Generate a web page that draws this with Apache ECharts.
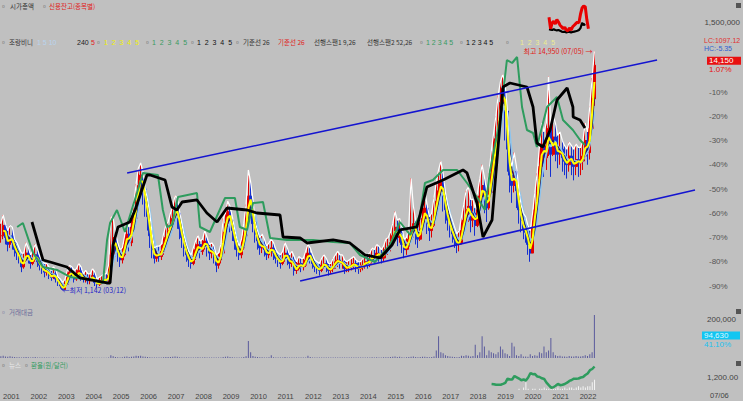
<!DOCTYPE html>
<html><head><meta charset="utf-8">
<script src="https://cdn.jsdelivr.net/npm/echarts@6/dist/echarts.min.js"></script>
<style>html,body{margin:0;padding:0;background:#c0c0c0}#c{width:743px;height:401px}</style>
</head><body><div id="c"></div>
<script>
// ---------- DATA ----------
// monthly prices (won), first point = Dec 2000, last = Jul 2022
const firstYear = 2000, firstMonth = 12;
const closeP = [
4300,
4900,4200,3800,4300,3900,3500,3300,3000,2500,2900,3300,3000,
2700,3000,3200,2800,2600,2400,2200,2300,2000,1900,2100,1800,
1600,1400,1200,1500,1900,2200,2100,1800,2000,2300,1900,1800,
1900,1700,1800,2000,1600,1500,1600,1700,1800,1700,2000,3200,
4200,3600,3300,2900,3200,3800,4400,3900,4800,5300,6300,7200,
7800,7000,6200,5400,4300,3500,3000,3300,3100,3400,3800,4200,
4600,4900,5300,5900,5600,4700,4200,3600,3200,2900,2700,3100,
3500,3800,3400,3700,4000,3600,3300,3500,3100,2600,2900,3300,
4500,5000,5700,5200,4600,4000,3500,3200,3600,4300,5200,6600,
6200,5000,4400,4000,3600,3800,3500,3200,3400,3600,3300,3000,
2900,2700,3000,3300,3000,2700,2900,2300,2400,2700,2500,2600,
2900,3300,3000,2700,2500,2400,2300,2600,2700,2500,2300,2400,
2600,2800,2900,2700,2800,2400,2500,2500,2600,2700,2500,2400,
2500,2600,2800,2700,2900,3100,3000,3300,3200,3000,3300,3500,
3600,3900,4300,4800,4200,4600,3800,3500,3700,4100,4600,5000,
4400,4100,4700,5300,5900,5000,4600,4900,5600,6300,6900,7400,
6600,5800,5200,4800,4400,4100,3800,3900,4600,5200,5800,6000,
5200,5600,4900,5800,6600,7200,6500,5900,6800,7900,8800,9900,
10900,12000,12800,11500,9300,7800,7200,8000,6900,5800,5200,4700,
4500,3800,3300,4800,5800,6800,8300,9600,8800,9500,10500,9000,
10000,9400,9000,9300,8800,8600,8400,8900,8600,8300,8700,8500,
8600,8900,9800,9100,10500,12200,14150
];
const highP = [
5000,
5500,5000,4600,4900,4800,4100,3900,3600,3300,3300,3900,3600,
3200,3500,3800,3500,3100,2900,2700,2700,2500,2300,2500,2300,
1900,1800,1600,1800,2300,2600,2500,2300,2400,2700,2500,2100,
2300,2100,2100,2400,2200,1800,1900,2000,2100,2100,2600,5400,
5300,4500,3900,3500,3600,4300,5100,4800,5500,6100,7300,8200,
8500,8000,7000,6400,5600,4400,3600,3700,3700,3800,4400,4900,
5100,5600,6000,6600,6500,5700,5000,4300,3800,3400,3200,3600,
4000,4300,4000,4100,4600,4200,3800,3900,3700,3200,3300,3800,
5300,5600,6300,6000,5400,4700,4100,3700,4100,5000,6100,8100,
7400,6400,5100,4600,4200,4400,4100,3700,3900,4100,3900,3500,
3300,3200,3400,3900,3600,3200,3400,3100,2800,3100,3000,3000,
3400,3800,3600,3200,2900,2800,2700,3000,3200,3000,2700,2700,
3000,3200,3400,3200,3200,2900,2800,2900,3000,3100,2900,2800,
2800,3000,3300,3200,3300,3600,3500,3800,3700,3500,3700,4100,
4200,4500,5000,5700,5200,5300,4800,4100,4200,4800,7600,6000,
5200,4900,5500,6200,6900,6100,5400,5600,6500,7400,8100,8600,
7900,6800,6100,5600,5200,4800,4400,4600,5400,6100,6900,7100,
6400,6400,5900,6800,7600,8400,7700,6900,7900,9200,10200,11200,
12400,13200,13600,13100,11600,9000,8300,9100,8300,7000,6100,5600,
5400,4900,4600,5600,6800,7900,9400,10800,10300,10800,13500,10600,
11200,10800,10100,10300,9800,9500,9300,9700,9500,9300,9600,9400,
9400,9800,10800,10300,11800,13400,14950
];
const lowP = [
3900,
4100,3800,3400,3600,3500,3100,2900,2700,2200,2400,2800,2700,
2400,2600,2800,2500,2300,2100,1900,2000,1800,1700,1800,1600,
1400,1250,1142,1300,1500,1800,1800,1600,1700,1900,1700,1600,
1600,1500,1500,1700,1400,1300,1400,1500,1600,1500,1600,1900,
3300,3100,2800,2500,2700,3100,3600,3400,3700,4500,5000,5900,
6500,6100,5400,4600,3600,3000,2700,2800,2800,2900,3200,3600,
4000,4300,4600,5000,4700,4100,3600,3100,2800,2500,2400,2600,
2900,3300,3000,3200,3500,3100,2900,3000,2700,2200,2400,2700,
3100,4300,4800,4500,4000,3500,3100,2900,3000,3500,4100,5000,
5300,4500,3900,3500,3200,3300,3100,2900,3000,3100,2900,2700,
2500,2400,2600,2800,2600,2400,2500,2000,2100,2300,2200,2300,
2500,2800,2700,2400,2200,2100,2000,2200,2400,2200,2000,2100,
2200,2400,2500,2400,2400,2100,2200,2200,2300,2400,2200,2100,
2200,2300,2400,2400,2500,2700,2700,2900,2800,2700,2800,3000,
3200,3400,3700,4100,3700,3900,3300,3000,3200,3500,3900,4200,
3800,3600,4000,4600,5000,4400,4000,4200,4800,5400,6000,6500,
5700,5000,4600,4200,3900,3600,3300,3400,3800,4500,5000,5100,
4500,4800,4300,4800,5700,6200,5600,5100,5800,6700,7600,8600,
9600,10500,11200,9800,8000,6800,6200,6800,5900,5000,4500,4100,
3900,3200,2800,3300,4600,5700,6800,8200,7700,8100,8900,7700,
8900,8600,8200,8400,8000,7800,7600,8000,7800,7500,7800,7700,
7800,8100,8600,8400,8700,10100,11800
];
const volumeM = [
9000,
12000,8000,6000,9000,7000,5000,4000,4000,3000,4000,5000,4000,
3000,4000,5000,3000,3000,2000,2000,2000,2000,1500,2000,1500,
1500,1500,2000,2000,3000,3000,2500,2000,2500,3000,2000,1500,
1500,1500,1500,2000,1500,1500,1500,1500,1500,1500,3000,14000,
9000,5000,4000,3000,4000,6000,8000,5000,7000,8000,12000,10000,
12000,8000,6000,5000,4000,3000,2500,3000,2500,3000,4000,5000,
5000,5000,6000,8000,6000,4000,3000,3000,2500,2000,2000,3000,
3000,4000,3000,3000,4000,3000,2500,2500,2000,2000,2000,2500,
5000,6000,8000,5000,4000,3000,2500,2500,3000,5000,9000,90000,
30000,10000,6000,5000,4000,4000,3000,3000,4000,14000,4000,3000,
3000,2500,3000,5000,3000,2500,2500,2000,2000,2500,2000,2000,
3000,12000,5000,3000,2500,2000,2000,3000,3000,2500,2000,2000,
2500,3000,3000,2500,3000,2000,2000,2000,2500,3000,2000,2000,
2000,2500,3000,2500,3000,3500,3000,4000,3000,3000,3500,4000,
4000,5000,6000,8000,5000,6000,4000,3000,3500,5000,6000,8000,
5000,4000,5000,6000,7000,5000,4000,5000,8000,40000,115000,30000,
25000,15000,10000,8000,6000,5000,4000,5000,12000,10000,15000,12000,
8000,10000,70000,14000,30000,115000,60000,15000,40000,30000,25000,20000,
30000,60000,45000,25000,20000,10000,80000,60000,15000,10000,20000,8000,
8000,6000,20000,10000,15000,12000,30000,25000,60000,30000,40000,105000,
30000,15000,10000,12000,8000,8000,6000,10000,8000,8000,10000,8000,
8000,10000,15000,10000,20000,30000,226000
];
// lagging lines: [decimal year, price]
const blackLine = [[2002.09,5095],[2002.49,2901],[2002.75,2786],[2003.36,2497],[2003.84,1862],[2004.82,1574],[2004.93,1574],[2005.04,3767],[2005.22,4807],[2005.65,5095],[2005.84,5788],[2006.27,7809],[2006.38,7809],[2006.93,7520],[2007.18,5961],[2007.36,5788],[2007.55,6250],[2008.09,6366],[2008.45,5615],[2008.82,5095],[2009.18,5904],[2009.91,5788],[2010.27,5615],[2011.11,5499],[2011.22,4229],[2011.84,4172],[2012.09,3883],[2013.04,4057],[2013.65,3883],[2014.2,3190],[2014.75,3017],[2015.18,3767],[2015.47,4634],[2016.09,4807],[2016.45,7116],[2017.04,7520],[2017.76,8098],[2017.91,7925],[2018.27,6193],[2018.49,4229],[2018.82,5211],[2019.22,12889],[2019.47,13120],[2020.09,12889],[2020.31,11734],[2020.45,9656],[2020.67,9425],[2020.93,10406],[2021.18,12138],[2021.55,12831],[2021.76,11734],[2021.77,11156],[2022.02,10983],[2022.2,10521]];
const greenLine = [[2001.55,4807],[2001.76,5038],[2002.13,3306],[2002.49,2497],[2003.0,2324],[2003.47,1920],[2004.31,1747],[2004.67,1574],[2004.82,4057],[2004.93,5038],[2005.18,5788],[2005.47,4518],[2006.13,7925],[2006.67,7809],[2006.85,5788],[2007.0,4807],[2007.18,4922],[2007.4,6539],[2008.09,6770],[2008.2,4807],[2008.56,4518],[2009.11,6481],[2009.47,6481],[2009.65,4807],[2009.91,4634],[2010.13,6193],[2010.49,6250],[2010.75,4172],[2011.36,4057],[2012.31,4057],[2013.04,3941],[2013.65,3883],[2014.02,3190],[2014.56,2786],[2015.11,3767],[2015.47,5095],[2015.84,4345],[2016.2,5499],[2016.38,7347],[2016.67,7520],[2017.04,8098],[2017.55,8098],[2017.91,7347],[2018.27,6539],[2018.56,5788],[2018.75,8098],[2019.11,10983],[2019.36,14447],[2019.55,14274],[2019.73,14620],[2019.91,11734],[2020.09,10406],[2020.31,10233],[2020.45,9425],[2020.82,11734],[2021.18,12311],[2021.4,10983],[2021.76,10406],[2022.02,9829],[2022.2,9540]];
const channelUpper = [[2005.55,7924],[2024.82,14447]];
const channelLower = [[2011.84,1689],[2026.2,6943]];
const highMark = [2022.51, 14950];
const lowMark = [2003.2, 1142];
const lastPrice = 14150;
const lastVolume = 94630;
// exchange rate (KRW/USD), monthly from Oct 2018
const fxFirst = [2018, 10];
const fxRate = [1130,1128,1122, 1122,1123,1131,1142,1183,1175,1175,1210,1197,1184,1167,1175, 1165,1195,1240,1228,1229,1204,1200,1187,1180,1144,1118,1093, 1098,1112,1131,1118,1123,1130,1143,1161,1170,1183,1183,1185, 1195,1200,1220,1236,1268,1280,1305];
const newsFirst = [2019, 10];
const newsCount = [1,0,2, 6,1,0,1,1,0,1,1,2,1,1,1, 1,1,2,1,1,2,1,2,2,1,2,3, 2,3,2,3,3,6,8];
// top mini pane (market cap / credit balance)
const miniCredit = [1620000,1330000,1480000,1520000,1450000,1560000,1500000,1420000,1380000,1330000,1370000,1300000,1280000,1350000,1300000,1380000,1420000,1460000,1500000,1480000,1700000,1850000,1900000,1880000,1560000,1330000];
const miniCap = [1320000,1310000,1300000,1320000,1300000,1290000,1300000,1280000,1260000,1250000,1260000,1240000,1250000,1250000,1240000,1250000,1260000,1270000,1280000,1300000,1350000,1480000,1420000,1450000,null,null];
const yearTicks = [2001,2002,2003,2004,2005,2006,2007,2008,2009,2010,2011,2012,2013,2014,2015,2016,2017,2018,2019,2020,2021,2022];
const basePrice = 14000; // 0% reference of the percent scale

// ---------- BUILD ----------
const XMIN = 2000.927, XMAX = 2026.2;
const mt = (y, m, i) => y + (m - 1 + i + 0.5) / 12;
const times = closeP.map((_, i) => mt(firstYear, firstMonth, i));
const candles = closeP.map((c, i) => {
  const o = i === 0 ? c : closeP[i - 1];
  return [times[i], o, c, Math.min(lowP[i], o, c), Math.max(highP[i], o, c)];
});
function ma(arr, n) { return arr.map((v, i) => i < n - 1 ? null : arr.slice(i - n + 1, i + 1).reduce((a, b) => a + b, 0) / n); }
const pairs = (arr) => arr.map((v, i) => [times[i], v]);
const ma2 = pairs(ma(closeP, 2)), ma3 = pairs(ma(closeP, 3)), ma4 = pairs(ma(closeP, 4));
const highLine = pairs(highP);
const volData = pairs(volumeM);
const fxData = fxRate.map((v, i) => [mt(fxFirst[0], fxFirst[1], i), v]);
const newsData = newsCount.map((v, i) => [mt(newsFirst[0], newsFirst[1], i), v]);

const NUM = '"Liberation Sans","Arial",sans-serif';
const KR = '"Noto Sans CJK KR","Noto Sans",sans-serif';
const fmtComma = v => String(v).replace(/\B(?=(\d{3})+(?!\d))/g, ',');

function T(x, y, text, fill, size, font) {
  return { type: 'text', x: x, y: y, silent: true, style: { text: text, fill: fill, font: (size || 7) + 'px ' + (font || KR), textVerticalAlign: 'middle', verticalAlign: 'middle' } };
}
const SQ = '\u25AB';
const graphics = [
  T(2, 6, SQ, '#555', 8, NUM), T(10, 6, '시가총액', '#333', 6.5), T(43, 6, SQ, '#555', 8, NUM), T(49, 6, '신용잔고(종목별)', '#e02020', 6.5),
  T(2, 42, SQ, '#555', 8, NUM), T(9, 42, '조랑비니', '#333', 6.5), T(37, 42, '1 5 10', '#b8d4ee', 7, NUM),
  T(77, 42, '240', '#222', 7, NUM), T(91, 42, '5', '#e02020', 7, NUM), T(97, 42, SQ, '#555', 8, NUM),
  T(104, 42, '1  2  3  4  5', '#f0f000', 7, NUM), T(146, 42, SQ, '#555', 8, NUM),
  T(152, 42, '1  2  3  4  5', '#3a9a62', 7, NUM), T(191, 42, SQ, '#555', 8, NUM),
  T(197, 42, '1  2  3  4  5', '#111', 7, NUM), T(236, 42, SQ, '#555', 8, NUM),
  T(243, 42, '기준선 26', '#333', 6.5), T(278, 42, '기준선 26', '#e02020', 6.5),
  T(314, 42, '선행스팬1 9,26', '#333', 6.5), T(367, 42, '선행스팬2 52,26', '#333', 6.5),
  T(420, 42, SQ, '#555', 8, NUM), T(426, 42, '1 2 3 4 5', '#3a9a62', 7, NUM),
  T(460, 42, SQ, '#555', 8, NUM), T(466, 42, '1 2 3 4 5', '#111', 7, NUM),
  T(506, 42, SQ, '#555', 8, NUM), T(520, 42, '1  2  3  4  5', '#ecec90', 7, NUM),
  T(2, 312, SQ, '#6a6a9a', 8, NUM), T(9, 312, '거래대금', '#6a6a9a', 6.5),
  T(2, 365, SQ, '#555', 8, NUM), T(9, 365, '뉴스', '#e8e8e8', 6.5), T(25, 365, SQ, '#555', 8, NUM), T(31, 365, '환율(원/달러)', '#2e9c5e', 6.5),
  T(704, 40, 'LC:1097.12', '#e03030', 7, NUM), T(704, 48, 'HC:-5.35', '#3060d0', 7, NUM),
  T(710, 395, '07/06', '#444', 7.5, NUM),
  { type: 'rect', shape: { x: 736, y: 3, width: 5, height: 5 }, style: { fill: '#555' }, silent: true },
  { type: 'rect', shape: { x: 736, y: 309, width: 5, height: 5 }, style: { fill: '#555' }, silent: true },
  { type: 'rect', shape: { x: 736, y: 361, width: 5, height: 5 }, style: { fill: '#555' }, silent: true }
];

const hiddenX = (gi) => ({ type: 'value', gridIndex: gi, min: XMIN, max: XMAX, show: false });
const axisLbl = { fontFamily: NUM, fontSize: 8, color: '#444', align: 'left' };
const clearLine = { color: 'rgba(0,0,0,0)', width: 1 };

const option = {
  animation: false,
  backgroundColor: '#c0c0c0',
  textStyle: { fontFamily: NUM },
  graphic: graphics,
  grid: [
    { left: 549, width: 42, top: 2, height: 36 },
    { left: 0, right: 48, top: 43.5, height: 266.75 },
    { left: 0, right: 48, top: 305, height: 53 },
    { left: 0, right: 48, top: 358, height: 32 }
  ],
  xAxis: [
    { type: 'category', gridIndex: 0, data: miniCredit.map((_, i) => i), boundaryGap: false, show: false },
    hiddenX(1), hiddenX(2),
    { type: 'value', gridIndex: 3, min: XMIN, max: XMAX, axisLine: { show: false }, axisTick: { show: false }, splitLine: { show: false },
      axisLabel: { customValues: yearTicks, formatter: v => String(Math.round(v)), fontFamily: NUM, fontSize: 7.5, color: '#444', align: 'left', margin: 2 } }
  ],
  yAxis: [
    { type: 'value', gridIndex: 0, position: 'right', offset: 110, min: 1100000, max: 2000000, axisLine: { show: false }, axisTick: { show: false }, splitLine: { show: false },
      axisLabel: Object.assign({ customValues: [1500000], formatter: v => fmtComma(v), margin: 6 }, axisLbl) },
    { type: 'value', gridIndex: 1, position: 'right', min: 0, max: 15400, interval: 1400, axisLine: { show: false }, axisTick: { show: false }, splitLine: { show: false },
      axisLabel: Object.assign({ margin: 14, formatter: v => { const p = Math.round((v / basePrice - 1) * 100); return (p >= 0 || p <= -100) ? '' : p + '%'; } }, axisLbl, { color: '#555' }) },
    { type: 'value', gridIndex: 2, position: 'right', min: 0, max: 278947, axisLine: { show: false }, axisTick: { show: false }, splitLine: { show: false },
      axisLabel: Object.assign({ customValues: [200000], formatter: v => fmtComma(v), margin: 12 }, axisLbl) },
    { type: 'value', gridIndex: 3, position: 'right', min: 1070, max: 1390, axisLine: { show: false }, axisTick: { show: false }, splitLine: { show: false },
      axisLabel: Object.assign({ customValues: [1200], formatter: v => fmtComma(v) + '.00', margin: 12 }, axisLbl) },
    { type: 'value', gridIndex: 3, min: 0, max: 25, show: false }
  ],
  series: [
    // mini pane
    { type: 'line', xAxisIndex: 0, yAxisIndex: 0, data: miniCap, symbol: 'none', lineStyle: { color: '#000', width: 2.2 } },
    { type: 'line', xAxisIndex: 0, yAxisIndex: 0, data: miniCredit, symbol: 'none', lineStyle: { color: '#e80000', width: 3 } },
    // main pane
    { type: 'line', xAxisIndex: 1, yAxisIndex: 1, data: ma4, symbol: 'none', lineStyle: { color: '#8cc4ee', width: 2 } },
    { type: 'line', xAxisIndex: 1, yAxisIndex: 1, data: ma3, symbol: 'none', lineStyle: { color: '#1c1c6c', width: 1.2 } },
    { type: 'candlestick', xAxisIndex: 1, yAxisIndex: 1, data: candles, encode: { x: 0, y: [1, 2, 3, 4] }, barWidth: 2.4,
      itemStyle: { color: '#e00000', color0: '#1530d0', borderColor: '#e00000', borderColor0: '#1530d0', borderWidth: 1 },
      markLine: { silent: true, symbol: 'none', lineStyle: clearLine,
        label: { show: true, position: 'end', distance: 12, formatter: '{a|14,150}\n{b|1.07%}',
          rich: { a: { backgroundColor: '#e81010', color: '#fff', fontFamily: NUM, fontSize: 8, padding: [0, 3, 0, 2], width: 29, lineHeight: 9 },
                  b: { color: '#e81010', fontFamily: NUM, fontSize: 8, padding: [0, 0, 0, 2], lineHeight: 9 } } },
        data: [{ yAxis: lastPrice }] },
      markPoint: { silent: true, symbol: 'circle', symbolSize: 0,
        data: [
          { coord: highMark, label: { show: true, position: 'left', distance: 1, formatter: '최고 14,950 (07/05) →', color: '#e01818', fontFamily: KR, fontSize: 7 } },
          { coord: lowMark, label: { show: true, position: 'right', distance: 0, formatter: '←최저 1,142 (03/12)', color: '#2424c8', fontFamily: KR, fontSize: 7 } }
        ] } },
    { type: 'line', xAxisIndex: 1, yAxisIndex: 1, data: highLine, symbol: 'none', lineStyle: { color: '#ffffff', width: 1.2 } },
    { type: 'line', xAxisIndex: 1, yAxisIndex: 1, data: ma2, symbol: 'none', lineStyle: { color: '#ffff00', width: 2 } },
    { type: 'line', xAxisIndex: 1, yAxisIndex: 1, data: greenLine, symbol: 'none', lineStyle: { color: '#2e9c5e', width: 2 } },
    { type: 'line', xAxisIndex: 1, yAxisIndex: 1, data: blackLine, symbol: 'none', lineStyle: { color: '#000', width: 2.8 } },
    { type: 'line', xAxisIndex: 1, yAxisIndex: 1, data: channelUpper, symbol: 'none', lineStyle: { color: '#1414d0', width: 1.6 } },
    { type: 'line', xAxisIndex: 1, yAxisIndex: 1, data: channelLower, symbol: 'none', lineStyle: { color: '#1414d0', width: 1.6 } },
    // volume pane
    { type: 'bar', xAxisIndex: 2, yAxisIndex: 2, data: volData, barWidth: 1, itemStyle: { color: '#5a5a9c' },
      markLine: { silent: true, symbol: 'none', lineStyle: clearLine,
        label: { show: true, position: 'end', distance: 7, formatter: '{a|94,630}\n{b|41.10%}',
          rich: { a: { backgroundColor: '#12c6f2', color: '#dff6ff', fontFamily: NUM, fontSize: 8, padding: [0, 6, 0, 2], width: 30, lineHeight: 9 },
                  b: { color: '#20c0ee', fontFamily: NUM, fontSize: 8, padding: [0, 0, 0, 2], lineHeight: 9 } } },
        data: [{ yAxis: lastVolume }] } },
    // exchange-rate pane
    { type: 'bar', xAxisIndex: 3, yAxisIndex: 4, data: newsData, barWidth: 1, itemStyle: { color: '#f4f4f4' } },
    { type: 'line', xAxisIndex: 3, yAxisIndex: 3, data: fxData, symbol: 'none', lineStyle: { color: '#2e9c5e', width: 2.5 } }
  ]
};
const chart = echarts.init(document.getElementById('c'), null, { renderer: 'svg' });
chart.setOption(option);
</script></body></html>
